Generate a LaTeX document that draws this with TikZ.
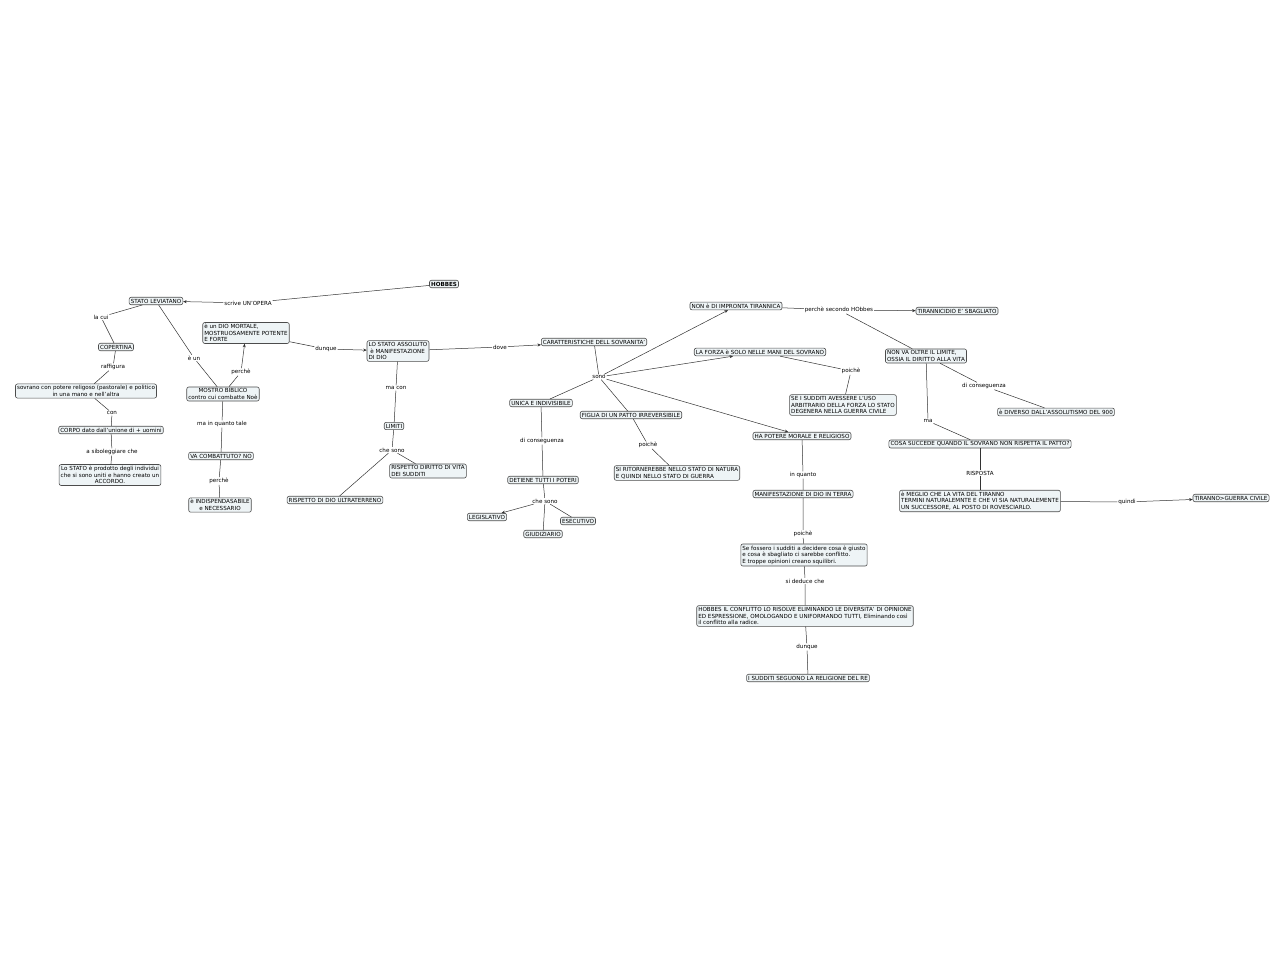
\documentclass[tikz,border=0pt]{standalone}
\usepackage{fontspec}
\setmainfont{DejaVu Sans}
\usetikzlibrary{arrows.meta}
\begin{document}
\begin{tikzpicture}[x=1pt,y=-1pt,
 box/.style={draw=black!70,fill={rgb,255:red,238;green,244;blue,246},rounded corners=2pt,line width=0.6pt,inner sep=1.6pt,font=\fontsize{5.6}{6.6}\selectfont,align=left},
 boxc/.style={box,align=center},
 lbl/.style={fill=white,inner sep=0.8pt,font=\fontsize{5.6}{6.6}\selectfont},
 ln/.style={draw=black!80,line width=0.5pt},
 ar/.style={ln,-{Stealth[length=3.5pt,width=3pt]}}]
\useasboundingbox (0,0) rectangle (1280,963);
% nodes
\node[box,font=\fontsize{5.6}{6.6}\selectfont\bfseries] (hob) at (444,284) {HOBBES};
\node[box] (lev) at (156,301) {STATO LEVIATANO};
\node[box] (cop) at (116,347) {COPERTINA};
\node[boxc] (sov) at (86,391) {sovrano con potere religoso (pastorale) e politico\\in una mano e nell'altra};
\node[box] (corpo) at (111,430) {CORPO dato dall'unione di + uomini};
\node[boxc] (lost) at (110,475) {Lo STATO è prodotto degli individui\\che si sono uniti e hanno creato un\\ACCORDO.};
\node[boxc] (mos) at (223,394) {MOSTRO BIBLICO\\contro cui combatte Noè};
\node[box] (dio) at (246,333) {è un DIO MORTALE,\\MOSTRUOSAMENTE POTENTE\\E FORTE};
\node[box] (va) at (221,456) {VA COMBATTUTO? NO};
\node[boxc] (ind) at (220,505) {è INDISPENDASABILE\\e NECESSARIO};
\node[box] (ass) at (398,351) {LO STATO ASSOLUTO\\\ è MANIFESTAZIONE\\DI DIO};
\node[box] (lim) at (394,426) {LIMITI};
\node[box] (rdv) at (428,471) {RISPETTO DIRITTO DI VITA\\DEI SUDDITI};
\node[box] (rdd) at (335,500) {RISPETTO DI DIO ULTRATERRENO};
\node[box] (car) at (594,342) {CARATTERISTICHE DELL SOVRANITA'};
\node[box] (non) at (736,306) {NON è DI IMPRONTA TIRANNICA};
\node[box] (tir) at (957,311) {TIRANNICIDIO E' SBAGLIATO};
\node[box] (forza) at (760,352) {LA FORZA è SOLO NELLE MANI DEL SOVRANO};
\node[box] (nonva) at (926,356) {NON VA OLTRE IL LIMITE,\\OSSIA IL DIRITTO ALLA VITA};
\node[box] (sei) at (843,405) {SE I SUDDITI AVESSERE L'USO\\ARBITRARIO DELLA FORZA LO STATO\\DEGENERA NELLA GUERRA CIVILE};
\node[box] (div) at (1056,412) {è DIVERSO DALL'ASSOLUTISMO DEL 900};
\node[box] (uni) at (541,403) {UNICA E INDIVISIBILE};
\node[box] (fig) at (631,415) {FIGLIA DI UN PATTO IRREVERSIBILE};
\node[box] (sir) at (677,473) {SI RITORNEREBBE NELLO STATO DI NATURA\\E QUINDI NELLO STATO DI GUERRA};
\node[box] (ha) at (802,436) {HA POTERE MORALE E RELIGIOSO};
\node[box] (cosa) at (980,444) {COSA SUCCEDE QUANDO IL SOVRANO NON RISPETTA IL PATTO?};
\node[box] (det) at (543,480) {DETIENE TUTTI I POTERI};
\node[box] (leg) at (487,517) {LEGISLATIVO};
\node[box] (ese) at (578,521) {ESECUTIVO};
\node[box] (giu) at (543,534) {GIUDIZIARIO};
\node[box] (man) at (803,494) {MANIFESTAZIONE DI DIO IN TERRA};
\node[box] (meg) at (980,501) {è MEGLIO CHE LA VITA DEL TIRANNO\\TERMINI NATURALEMNTE E CHE VI SIA NATURALEMENTE\\UN SUCCESSORE, AL POSTO DI ROVESCIARLO.};
\node[box] (tg) at (1231,498) {TIRANNO>GUERRA CIVILE};
\node[box] (sef) at (804,555) {Se fossero i sudditi a decidere cosa è giusto\\e cosa è sbagliato ci sarebbe conflitto.\\E troppe opinioni creano squilibri.};
\node[box] (hc) at (805,616) {HOBBES IL CONFLITTO LO RISOLVE ELIMINANDO LE DIVERSITA' DI OPINIONE\\ED ESPRESSIONE, OMOLOGANDO E UNIFORMANDO TUTTI, Eliminando così\\il conflitto alla radice.};
\node[box] (iss) at (808,678) {I SUDDITI SEGUONO LA RELIGIONE DEL RE};
% labels
\node[lbl] (l1) at (248,303) {scrive UN'OPERA};
\node[lbl] (l2) at (101,317) {la cui};
\node[lbl] (l3) at (113,367) {raffigura};
\node[lbl] (l4) at (112,413) {con};
\node[lbl] (l5) at (112,452) {a siboleggiare che};
\node[lbl] (l6) at (194,358) {è un};
\node[lbl] (l7) at (241,372) {perchè};
\node[lbl] (l8) at (222,424) {ma in quanto tale};
\node[lbl] (l9) at (219,481) {perchè};
\node[lbl] (l10) at (326,349) {dunque};
\node[lbl] (l11) at (396,388) {ma con};
\node[lbl] (l12) at (392,450) {che sono};
\node[lbl] (l13) at (500,347) {dove};
\node[lbl] (l14) at (599,377) {sono};
\node[lbl] (l15) at (542,441) {di conseguenza};
\node[lbl] (l16) at (545,501) {che sono};
\node[lbl] (l17) at (648,445) {poichè};
\node[lbl] (l18) at (851,371) {poichè};
\node[lbl] (l19) at (839,310) {perchè secondo HObbes};
\node[lbl] (l20) at (984,386) {di conseguenza};
\node[lbl] (l21) at (928,421) {ma};
\node[lbl] (l22) at (803,475) {in quanto};
\node[lbl] (l23) at (980,473) {RISPOSTA};
\node[lbl] (l24) at (1127,502) {quindi};
\node[lbl] (l25) at (803,534) {poichè};
\node[lbl] (l26) at (805,581) {si deduce che};
\node[lbl] (l27) at (807,647) {dunque};
% edges
\draw[ln] (hob) -- (l1); \draw[ar] (l1) -- (lev);
\draw[ln] (lev) -- (l2) -- (cop);
\draw[ln] (cop) -- (l3) -- (sov);
\draw[ln] (sov) -- (l4) -- (corpo);
\draw[ln] (corpo) -- (l5) -- (lost);
\draw[ln] (lev) -- (l6) -- (mos);
\draw[ln] (mos) -- (l7); \draw[ar] (l7) -- (dio);
\draw[ln] (mos) -- (l8) -- (va);
\draw[ln] (va) -- (l9) -- (ind);
\draw[ln] (dio) -- (l10); \draw[ar] (l10) -- (ass);
\draw[ln] (ass) -- (l11) -- (lim);
\draw[ln] (lim) -- (l12) -- (rdv); \draw[ln] (l12) -- (rdd);
\draw[ln] (ass) -- (l13); \draw[ar] (l13) -- (car);
\draw[ln] (car) -- (l14);
\draw[ar] (l14) -- (non); \draw[ar] (l14) -- (forza); \draw[ar] (l14) -- (ha);
\draw[ln] (l14) -- (uni); \draw[ln] (l14) -- (fig);
\draw[ln] (uni) -- (l15) -- (det);
\draw[ln] (det) -- (l16); \draw[ar] (l16) -- (leg); \draw[ln] (l16) -- (ese); \draw[ln] (l16) -- (giu);
\draw[ln] (fig) -- (l17) -- (sir);
\draw[ln] (forza) -- (l18) -- (sei);
\draw[ln] (non) -- (l19); \draw[ar] (l19) -- (tir); \draw[ln] (l19) -- (nonva);
\draw[ln] (nonva) -- (l20) -- (div);
\draw[ln] (nonva) -- (l21) -- (cosa);
\draw[ln] (cosa) -- (l23) -- (meg);
\draw[ln] (meg) -- (l24); \draw[ar] (l24) -- (tg);
\draw[ln] (ha) -- (l22) -- (man);
\draw[ln] (man) -- (l25) -- (sef);
\draw[ln] (sef) -- (l26) -- (hc);
\draw[ln] (hc) -- (l27) -- (iss);
\end{tikzpicture}
\end{document}
